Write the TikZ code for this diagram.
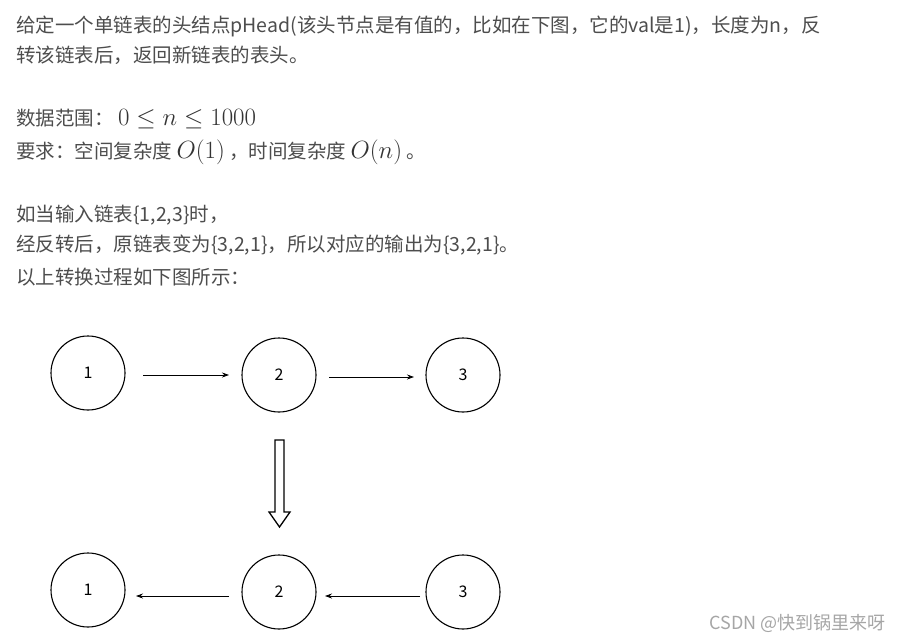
\documentclass[tikz,border=0pt]{standalone}
\usepackage{fontspec}
\setmainfont{Noto Sans CJK SC}
\usetikzlibrary{arrows.meta}
\definecolor{txt}{HTML}{4D4D4D}
\newcommand{\mymath}[1]{{\fontsize{23}{24}\selectfont\color{black!80}$#1$}}
\begin{document}
\begin{tikzpicture}[x=1pt,y=-1pt,
  line/.style={anchor=west,inner sep=0pt,text=txt,font=\fontsize{19.5}{22}\selectfont},
  circ/.style={circle,draw,line width=1.1pt,minimum size=74pt,inner sep=0pt,font=\fontsize{16}{18}\selectfont},
  arr/.style={-{Stealth[length=7pt,width=5pt]},line width=0.8pt}]
\useasboundingbox[fill=white] (0,0) rectangle (902,642);
\node[line] (l1) at (16,26) {给定一个单链表的头结点pHead(该头节点是有值的，比如在下图，它的val是1)，长度为n，反};
\node[line] (l2) at (16,55) {转该链表后，返回新链表的表头。};
\node[line] (l3) at (16,119) {数据范围： \mymath{0\le n\le 1000}};
\node[line] (l4) at (16,152) {要求：空间复杂度 \mymath{O(1)} ，时间复杂度 \mymath{O(n)} 。};
\node[line] (l5) at (16,215) {如当输入链表\{1,2,3\}时，};
\node[line] (l6) at (16,245) {经反转后，原链表变为\{3,2,1\}，所以对应的输出为\{3,2,1\}。};
\node[line] (l7) at (16,277) {以上转换过程如下图所示：};
\node[circ] (a1) at (88,373) {1};
\node[circ] (a2) at (279,375) {2};
\node[circ] (a3) at (463,375) {3};
\node[circ] (b1) at (88,590) {1};
\node[circ] (b2) at (279,592) {2};
\node[circ] (b3) at (463,592) {3};
\coordinate (p1) at (143,375); \coordinate (p2) at (229,375);
\coordinate (p3) at (329,377); \coordinate (p4) at (414,377);
\coordinate (q1) at (229,596); \coordinate (q2) at (136,596);
\coordinate (q3) at (420,596); \coordinate (q4) at (325,596);
\draw[arr] (p1) -- (p2);
\draw[arr] (p3) -- (p4);
\draw[arr] (q1) -- (q2);
\draw[arr] (q3) -- (q4);
\draw[line width=1.3pt,fill=white] (275,440) -- (284,440) -- (284,512) -- (290,512) -- (279.5,527) -- (269,512) -- (275,512) -- cycle;
\node[anchor=east,inner sep=0pt,text=gray!70,font=\fontsize{18}{20}\selectfont] (wm) at (886,623) {CSDN @快到锅里来呀};
\end{tikzpicture}
\end{document}
